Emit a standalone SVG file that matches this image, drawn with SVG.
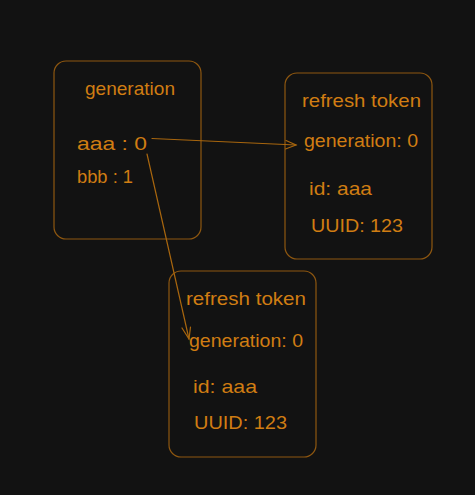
<svg xmlns="http://www.w3.org/2000/svg" width="475" height="495" viewBox="0 0 475 495">
<style>
  .box { fill: none; stroke: #8e5710; stroke-width: 1.2; }
  .t { fill: #d07d12; font-family: "Liberation Sans", Arial, sans-serif; font-size: 18.5px; }
  .c { fill: none; stroke: #a8660e; stroke-width: 1.2; stroke-linecap: round; }
</style>
<rect width="475" height="495" fill="#121212"/>
<g id="generation">
  <rect class="box" x="54" y="61" width="147" height="178" rx="12"/>
  <text class="t" x="85" y="95" textLength="90" lengthAdjust="spacingAndGlyphs">generation</text>
  <text class="t" x="77" y="150" textLength="70" lengthAdjust="spacingAndGlyphs">aaa : 0</text>
  <text class="t" x="77" y="183" textLength="56" lengthAdjust="spacingAndGlyphs">bbb : 1</text>
</g>
<g id="refresh-token-1">
  <rect class="box" x="285" y="73" width="147" height="186" rx="12"/>
  <text class="t" x="302" y="107" textLength="119" lengthAdjust="spacingAndGlyphs">refresh token</text>
  <text class="t" x="304" y="147" textLength="114" lengthAdjust="spacingAndGlyphs">generation: 0</text>
  <text class="t" x="309" y="195" textLength="63" lengthAdjust="spacingAndGlyphs">id: aaa</text>
  <text class="t" x="311" y="232" textLength="92" lengthAdjust="spacingAndGlyphs">UUID: 123</text>
</g>
<g id="refresh-token-2">
  <rect class="box" x="169" y="271" width="147" height="186" rx="12"/>
  <text class="t" x="186" y="305" textLength="120" lengthAdjust="spacingAndGlyphs">refresh token</text>
  <text class="t" x="189" y="347" textLength="114" lengthAdjust="spacingAndGlyphs">generation: 0</text>
  <text class="t" x="193" y="393" textLength="64" lengthAdjust="spacingAndGlyphs">id: aaa</text>
  <text class="t" x="194" y="429" textLength="93" lengthAdjust="spacingAndGlyphs">UUID: 123</text>
</g>
<g id="connectors">
  <path class="c" d="M152 138.5 L296 145"/>
  <path class="c" d="M286 140.5 L296 145 L285.5 149"/>
  <path class="c" d="M147 154 L189 339"/>
  <path class="c" d="M182 328 L189 339 L190.5 327"/>
</g>
</svg>
